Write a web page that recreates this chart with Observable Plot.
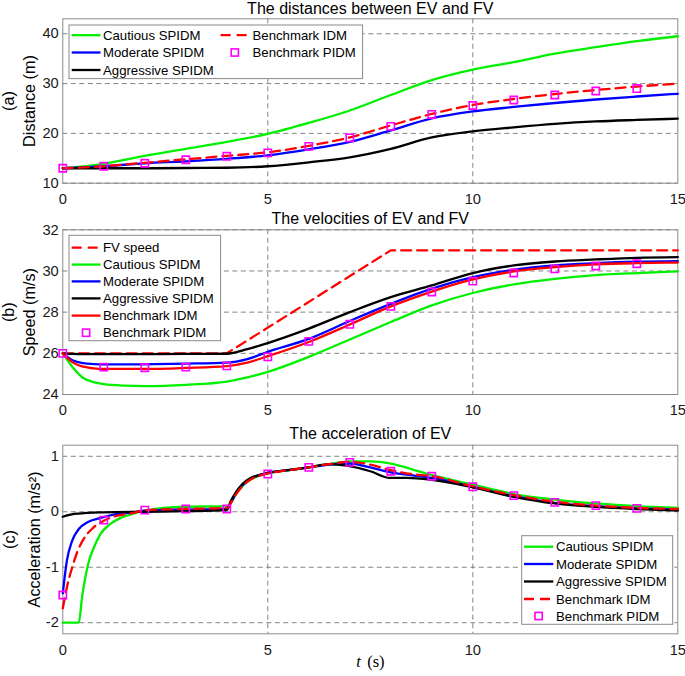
<!DOCTYPE html>
<html><head><meta charset="utf-8">
<script src="https://cdn.jsdelivr.net/npm/d3@7"></script>
<script src="https://cdn.jsdelivr.net/npm/@observablehq/plot@0.6"></script>
<style>
body{margin:0;background:#fff;}
#chart{position:relative;width:685px;height:676px;background:#fff;font-family:"Liberation Sans",Arial,sans-serif;}
#chart svg{position:absolute;left:0;overflow:visible;}
</style></head><body><div id="chart"></div>
<script>
// ---------- shared ----------
const xTicks = [0, 5, 10, 15];
const xGridTicks = [5, 10];
const tPidm = [0,1,2,3,4,5,6,7,8,9,10,11,12,13,14];
const seriesNames = ["Cautious SPIDM","Moderate SPIDM","Aggressive SPIDM","Benchmark IDM","Benchmark PIDM","FV speed"];

// ---------- (a) distances ----------
const titleA = "The distances between EV and FV";
const yLabelA = "Distance (m)";
const yTicksA = [10, 20, 30, 40];
const tDist = [0,1,2,3,4,5,6,7,8,9,10,11,12,13,14,15];
const distCautious   = [13, 13.9, 15.5, 16.9, 18.3, 19.9, 22.1, 24.6, 27.7, 30.7, 32.8, 34.3, 36.0, 37.3, 38.5, 39.5];
const distModerate   = [13, 13.4, 14.0, 14.4, 14.9, 15.6, 16.8, 18.3, 20.6, 23.0, 24.4, 25.3, 26.1, 26.8, 27.4, 27.95];
const distAggressive = [13, 13.0, 13.0, 13.05, 13.1, 13.4, 14.2, 15.2, 16.9, 19.2, 20.4, 21.2, 21.9, 22.4, 22.7, 22.95];
const distIdm        = [13, 13.4, 14.1, 14.8, 15.5, 16.2, 17.5, 19.2, 21.6, 23.9, 25.7, 26.9, 27.9, 28.7, 29.4, 30.0];
const distPidm       = [13.0, 13.4, 14.0, 14.7, 15.4, 16.1, 17.4, 19.1, 21.4, 23.8, 25.6, 26.7, 27.7, 28.5, 29.0];

// ---------- (b) speeds ----------
const titleB = "The velocities of EV and FV";
const yLabelB = "Speed (m/s)";
const yTicksB = [24, 26, 28, 30, 32];
const tFv = [0, 4, 8, 15];
const speedFv = [26, 26, 31, 31];
const tSpeed = [0, 0.25, 0.5, 0.75, 1, 1.5, 2, 3, 4, 4.5, 5, 6, 7, 8, 9, 10, 11, 12, 13, 14, 15];
const speedCautious   = [26, 25.3, 24.8, 24.6, 24.5, 24.43, 24.41, 24.47, 24.63, 24.83, 25.1, 25.83, 26.67, 27.52, 28.33, 28.93, 29.35, 29.62, 29.8, 29.9, 29.98];
const speedModerate   = [26, 25.65, 25.52, 25.48, 25.46, 25.46, 25.47, 25.5, 25.55, 25.72, 26.07, 26.7, 27.57, 28.4, 29.14, 29.7, 30.06, 30.27, 30.38, 30.45, 30.48];
const speedAggressive = [26, 25.97, 25.96, 25.96, 25.96, 25.96, 25.96, 25.97, 25.98, 26.2, 26.5, 27.2, 28.0, 28.73, 29.3, 29.9, 30.27, 30.46, 30.56, 30.64, 30.67];
const speedIdm        = [26, 25.55, 25.35, 25.27, 25.24, 25.24, 25.24, 25.29, 25.38, 25.55, 25.86, 26.55, 27.4, 28.28, 29.0, 29.59, 29.98, 30.19, 30.32, 30.38, 30.41];
const speedPidm       = [26, 25.33, 25.3, 25.33, 25.39, 25.83, 26.58, 27.41, 28.28, 28.98, 29.51, 29.9, 30.1, 30.24, 30.35];

// ---------- (c) acceleration ----------
const titleC = "The acceleration of EV";
const yLabelC = "Acceleration (m/s\u00B2)";
const yTicksC = [-2, -1, 0, 1];
const tAccCautious = [0, 0.39, 0.47, 0.55, 0.63, 0.76, 0.92, 1.16, 1.41, 1.74, 2, 3, 4, 4.1, 4.22, 4.38, 4.58, 4.79, 5, 5.5, 6, 6.5, 7, 7.5, 8, 8.5, 9, 10, 11, 12, 13, 14, 15];
const accCautious  = [-2, -2, -1.54, -1.18, -0.91, -0.64, -0.4, -0.22, -0.11, -0.03, 0.02, 0.09, 0.1, 0.16, 0.31, 0.46, 0.58, 0.65, 0.69, 0.75, 0.8, 0.86, 0.91, 0.91, 0.87, 0.77, 0.66, 0.49, 0.32, 0.22, 0.15, 0.1, 0.07];
const tAccModerate = [0, 0.1, 0.23, 0.39, 0.6, 0.92, 1.24, 1.73, 2, 3, 4, 4.1, 4.22, 4.38, 4.58, 4.79, 5, 5.5, 6, 6.5, 7, 7.5, 8, 8.5, 9, 10, 11, 12, 13, 14, 15];
const accModerate  = [-1.47, -0.88, -0.52, -0.31, -0.19, -0.11, -0.05, -0.01, 0.02, 0.04, 0.05, 0.16, 0.33, 0.48, 0.6, 0.66, 0.7, 0.75, 0.8, 0.85, 0.87, 0.8, 0.71, 0.66, 0.61, 0.45, 0.28, 0.16, 0.1, 0.06, 0.04];
const tAccAggressive = [0, 0.27, 0.6, 1, 2, 3, 4, 4.1, 4.22, 4.38, 4.58, 4.79, 5, 5.5, 6, 6.5, 6.93, 7.5, 7.98, 8.39, 8.96, 10, 11, 12, 13, 14, 15];
const accAggressive  = [-0.09, -0.04, -0.02, -0.01, 0.0, 0.01, 0.03, 0.2, 0.35, 0.5, 0.61, 0.66, 0.7, 0.75, 0.8, 0.86, 0.83, 0.73, 0.61, 0.61, 0.58, 0.44, 0.27, 0.15, 0.09, 0.05, 0.02];
const tAccIdm = [0, 0.1, 0.23, 0.35, 0.51, 0.71, 1.0, 1.33, 1.73, 2, 3, 4, 4.1, 4.22, 4.38, 4.58, 4.79, 5, 5.5, 6, 6.5, 7, 7.5, 8, 8.5, 9, 10, 11, 12, 13, 14, 15];
const accIdm  = [-1.74, -1.36, -1.0, -0.73, -0.49, -0.31, -0.16, -0.07, -0.02, 0.03, 0.05, 0.07, 0.16, 0.31, 0.46, 0.58, 0.65, 0.69, 0.75, 0.8, 0.86, 0.9, 0.85, 0.75, 0.68, 0.64, 0.46, 0.3, 0.18, 0.11, 0.07, 0.05];
const accPidm = [-1.5, -0.15, 0.03, 0.05, 0.05, 0.68, 0.8, 0.89, 0.73, 0.64, 0.45, 0.29, 0.17, 0.11, 0.06];

// ---------- styles ----------
const C = {green:"#00f000", blue:"#0000ff", black:"#000000", red:"#ff0000", magenta:"#ff00ff"};
const LW = 2.3;
const DASH = "10,6";
const GRID = {stroke:"#6e6e6e", strokeOpacity:0.85, strokeDasharray:"5,3.5", strokeWidth:1};
const FONT = "Liberation Sans, Arial, sans-serif";
const fmt = d => String(d);

const lineOf = (ts, vs, stroke, dash) =>
  Plot.line(vs, {x:(d,i)=>ts[i], y:d=>d, stroke, strokeWidth:LW, curve:"monotone-x", strokeDasharray:dash || null});
const lineLin = (ts, vs, stroke, dash) =>
  Plot.line(vs, {x:(d,i)=>ts[i], y:d=>d, stroke, strokeWidth:LW, curve:"linear", strokeDasharray:dash || null});
const squares = (ts, vs) =>
  Plot.dot(vs, {x:(d,i)=>ts[i], y:d=>d, symbol:"square", r:4.1, stroke:C.magenta, fill:"none", strokeWidth:1.6});

function panel(o) {
  const svg = Plot.plot({
    width: 685, height: o.height,
    marginLeft: 62.3, marginRight: 7.7, marginTop: o.mt, marginBottom: o.mb,
    style: {fontFamily: FONT, fontSize: "14.7px", color: "#1a1a1a", background: "transparent", overflow: "visible"},
    x: {domain: [0, 15]},
    y: {domain: o.ydomain},
    marks: [
      Plot.gridY(o.yticks, GRID),
      Plot.gridX(xGridTicks, GRID),
      Plot.frame({stroke: "#8a8a8a", strokeWidth: 1}),
      Plot.axisY(o.yticks, {tickSize: 0, tickPadding: 4, label: null, fontSize: 14.7, tickFormat: fmt}),
      Plot.axisX(xTicks, {tickSize: 0, tickPadding: 10.5, label: null, fontSize: 14.7, tickFormat: fmt}),
      ...o.marks,
      Plot.text([o.title], {frameAnchor: "top", lineAnchor: "bottom", dy: o.titleDy, fontSize: 16, fill: "#000"}),
      Plot.text([o.ylabel], {frameAnchor: "left", rotate: -90, lineAnchor: "bottom", textAnchor: "middle", dx: o.labDx, fontSize: 16.2, fill: "#000"}),
      Plot.text([o.tag], {frameAnchor: "left", rotate: -90, lineAnchor: "bottom", textAnchor: "middle", dx: o.tagDx, fontSize: 16.2, fill: "#000"}),
      ...(o.extra || [])
    ]
  });
  svg.style.top = o.top + "px";
  document.getElementById("chart").appendChild(svg);
  return svg;
}

function legend(svg, box, items) {
  const g = d3.select(svg).append("g").attr("text-anchor", "start");
  g.append("rect").attr("x", box.x).attr("y", box.y).attr("width", box.w).attr("height", box.h)
    .attr("fill", "#fff").attr("stroke", "#8a8a8a").attr("stroke-width", 1);
  for (const it of items) {
    if (it.kind === "square") {
      const cx = (it.x0 + it.x1) / 2, s = 7.2;
      g.append("rect").attr("x", cx - s/2).attr("y", it.y - s/2).attr("width", s).attr("height", s)
        .attr("fill", "none").attr("stroke", it.color).attr("stroke-width", 1.6);
    } else {
      g.append("line").attr("x1", it.x0).attr("x2", it.x1).attr("y1", it.y).attr("y2", it.y)
        .attr("stroke", it.color).attr("stroke-width", LW).attr("stroke-dasharray", it.dash || null);
    }
    g.append("text").attr("x", it.tx).attr("y", it.y).attr("dy", "0.36em").attr("text-anchor", "start")
      .attr("font-family", FONT).attr("font-size", 13.2).attr("fill", "#000").text(it.label);
  }
}

// ---------- panel (a) ----------
const svgA = panel({
  top: 0, height: 210, mt: 18.3, mb: 27.3, ydomain: [10, 43], yticks: yTicksA,
  title: titleA, titleDy: -4.6, ylabel: yLabelA, tag: "(a)", labDx: -27.8, tagDx: -48.5,
  marks: [
    lineOf(tDist, distCautious, C.green),
    lineOf(tDist, distModerate, C.blue),
    lineOf(tDist, distAggressive, C.black),
    lineOf(tDist, distIdm, C.red, DASH),
    squares(tPidm, distPidm)
  ]
});
legend(svgA, {x: 69, y: 25, w: 293.6, h: 53.6}, [
  {label: seriesNames[0], color: C.green, x0: 71.7, x1: 100.5, tx: 103, y: 35.2},
  {label: seriesNames[1], color: C.blue, x0: 71.7, x1: 100.5, tx: 103, y: 52.5},
  {label: seriesNames[2], color: C.black, x0: 71.7, x1: 100.5, tx: 103, y: 70},
  {label: seriesNames[3], color: C.red, dash: DASH, x0: 220.6, x1: 249, tx: 252.5, y: 35.2},
  {label: seriesNames[4], color: C.magenta, kind: "square", x0: 220.6, x1: 249, tx: 252.5, y: 52.5}
]);

// ---------- panel (b) ----------
const svgB = panel({
  top: 210, height: 220, mt: 19.3, mb: 36, ydomain: [24, 32], yticks: yTicksB,
  title: titleB, titleDy: -5.5, ylabel: yLabelB, tag: "(b)", labDx: -27.8, tagDx: -48.5,
  marks: [
    lineLin(tFv, speedFv, C.red, DASH),
    lineOf(tSpeed, speedCautious, C.green),
    lineOf(tSpeed, speedModerate, C.blue),
    lineOf(tSpeed, speedAggressive, C.black),
    lineOf(tSpeed, speedIdm, C.red),
    squares(tPidm, speedPidm)
  ]
});
legend(svgB, {x: 69, y: 25.3, w: 151.6, h: 105.4}, [
  {label: seriesNames[5], color: C.red, dash: DASH, x0: 71.7, x1: 100.5, tx: 103, y: 37.7},
  {label: seriesNames[0], color: C.green, x0: 71.7, x1: 100.5, tx: 103, y: 54.6},
  {label: seriesNames[1], color: C.blue, x0: 71.7, x1: 100.5, tx: 103, y: 71.4},
  {label: seriesNames[2], color: C.black, x0: 71.7, x1: 100.5, tx: 103, y: 88.4},
  {label: seriesNames[3], color: C.red, x0: 71.7, x1: 100.5, tx: 103, y: 105.6},
  {label: seriesNames[4], color: C.magenta, kind: "square", x0: 71.7, x1: 100.5, tx: 103, y: 122.7}
]);

// ---------- panel (c) ----------
const svgC = panel({
  top: 430, height: 246, mt: 14.7, mb: 42.7, ydomain: [-2.2, 1.2], yticks: yTicksC,
  title: titleC, titleDy: -6.3, ylabel: yLabelC, tag: "(c)", labDx: -23, tagDx: -47.5,
  marks: [
    lineOf(tAccCautious, accCautious, C.green),
    lineOf(tAccModerate, accModerate, C.blue),
    lineOf(tAccAggressive, accAggressive, C.black),
    lineOf(tAccIdm, accIdm, C.red, DASH),
    squares(tPidm, accPidm)
  ],
  extra: [
    Plot.text(["t"], {frameAnchor: "bottom", lineAnchor: "bottom", textAnchor: "middle", dx: -11.8, dy: 32.7,
      fontSize: 16.5, fontStyle: "italic", fontFamily: "Liberation Serif, DejaVu Serif, serif", fill: "#000"}),
    Plot.text(["(s)"], {frameAnchor: "bottom", lineAnchor: "bottom", textAnchor: "start", dx: -3.1, dy: 32.7,
      fontSize: 16.5, fontFamily: "Liberation Serif, DejaVu Serif, serif", fill: "#000"})
  ]
});
legend(svgC, {x: 521.7, y: 105.7, w: 151, h: 88.6}, [
  {label: seriesNames[0], color: C.green, x0: 524, x1: 553.3, tx: 556, y: 116.7},
  {label: seriesNames[1], color: C.blue, x0: 524, x1: 553.3, tx: 556, y: 134},
  {label: seriesNames[2], color: C.black, x0: 524, x1: 553.3, tx: 556, y: 151.5},
  {label: seriesNames[3], color: C.red, dash: DASH, x0: 524, x1: 553.3, tx: 556, y: 169},
  {label: seriesNames[4], color: C.magenta, kind: "square", x0: 524, x1: 553.3, tx: 556, y: 186}
]);
</script></body></html>
